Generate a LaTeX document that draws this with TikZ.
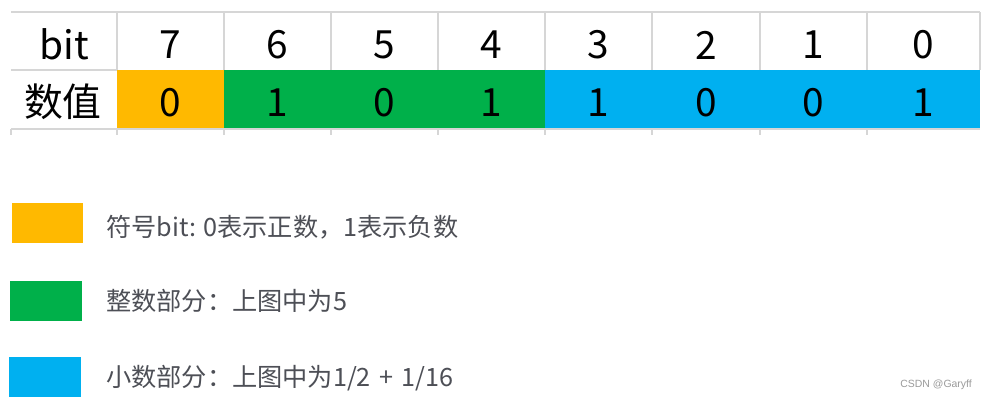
\documentclass[tikz,border=0pt]{standalone}
\usepackage{fontspec}
\newfontfamily\cjk{Noto Sans CJK SC}
\definecolor{gridc}{HTML}{D6D6D6}
\definecolor{signc}{HTML}{FFB900}
\definecolor{intc}{HTML}{00B04A}
\definecolor{fracc}{HTML}{00B0F0}
\definecolor{legtext}{HTML}{4D4F56}
\definecolor{wmark}{HTML}{9A9A9A}
\tikzset{
  cell/.style={font=\cjk\fontsize{39}{39}\selectfont, text=black, inner sep=0pt, anchor=center},
  swatch/.style={minimum width=71bp, minimum height=40bp, inner sep=0pt, draw=none},
  legend/.style={font=\cjk\fontsize{25.3}{25.3}\selectfont, text=legtext, anchor=west, inner sep=0pt},
  grid/.style={draw=gridc, line width=1.3bp}
}
\begin{document}
\begin{tikzpicture}[x=1bp,y=-1bp]
\useasboundingbox[fill=white] (0,0) rectangle (989,401);
% fills
\fill[signc] (117,70) rectangle (224,129);
\fill[intc] (224,70) rectangle (545,129);
\fill[fracc] (545,70) rectangle (980,129);
% grid
\draw[grid] (11,12) -- (980,12);
\draw[grid] (11,70) -- (117,70);
\draw[grid] (11,129) -- (980,129);
\foreach \x in {117,224,331,438,545,652,760,867}{
  \draw[grid] (\x,12) -- (\x,70);
  \draw[grid] (\x,129) -- (\x,135);
}
\draw[grid] (980,12) -- (980,70);
\draw[grid] (11,129) -- (11,135);
% header row
\node[cell] (hb) at (64,44) {bit};
\node[cell] (h7) at (170.5,45) {7};
\node[cell] (h6) at (277.5,45) {6};
\node[cell] (h5) at (384.5,45) {5};
\node[cell] (h4) at (491.5,45) {4};
\node[cell] (h3) at (598.5,45) {3};
\node[cell] (h2) at (706,45) {2};
\node[cell] (h1) at (813.5,45) {1};
\node[cell] (h0) at (923.5,45) {0};
% value row
\node[cell] (vl) at (63,102) {数值};
\node[cell] (v7) at (170.5,103) {0};
\node[cell] (v6) at (277.5,103) {1};
\node[cell] (v5) at (384.5,103) {0};
\node[cell] (v4) at (491.5,103) {1};
\node[cell] (v3) at (598.5,103) {1};
\node[cell] (v2) at (706,103) {0};
\node[cell] (v1) at (813.5,103) {0};
\node[cell] (v0) at (923.5,103) {1};
% legend
\node[swatch, fill=signc] (s1) at (47.5,223) {};
\node[swatch, fill=intc] (s2) at (46,300.5) {};
\node[swatch, fill=fracc] (s3) at (45,377) {};
\node[legend] (t1) at (106,227) {符号bit: 0表示正数，1表示负数};
\node[legend] (t2) at (106,301) {整数部分：上图中为5};
\node[legend] (t3) at (106,378) {小数部分：上图中为1/2\,\,+\,\,1/16};
% watermark
\node[font=\fontspec{Liberation Sans}\fontsize{10.5}{10.5}\selectfont, text=wmark, anchor=east, inner sep=0pt] (wm) at (972,385) {CSDN @Garyff};
\end{tikzpicture}
\end{document}
